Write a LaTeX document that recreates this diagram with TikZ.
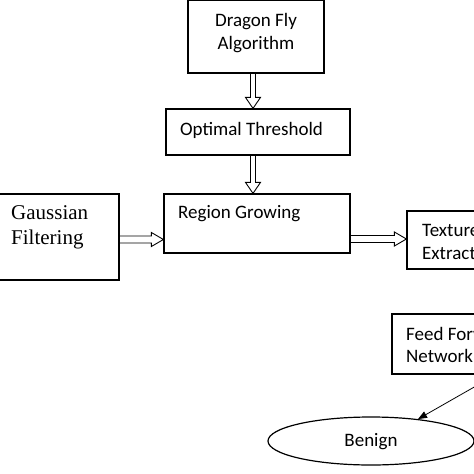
\documentclass[tikz,border=0pt]{standalone}
\usepackage{fontspec}
\setmainfont{Carlito}
\newfontfamily\serifont{Liberation Serif}
\usetikzlibrary{calc,arrows.meta,shapes.geometric}
\tikzset{
  box/.style={draw=black, line width=1.2pt, rectangle, inner sep=0pt},
  oval/.style={draw=black, line width=1.2pt, ellipse, inner sep=0pt},
  lbl/.style={inner sep=0pt, align=left, font=\fontsize{19}{22.5}\selectfont},
  slbl/.style={inner sep=0pt, align=left, font=\serifont\fontsize{21}{25}\selectfont},
  hollowdown/.style={line width=0.9pt, to path={
    ($(\tikztostart)+(-2.5,0)$) -- ($(\tikztotarget)+(-2.5,-11)$) --
    ($(\tikztotarget)+(-7.5,-11)$) -- (\tikztotarget) --
    ($(\tikztotarget)+(7.5,-11)$) -- ($(\tikztotarget)+(2.5,-11)$) --
    ($(\tikztostart)+(2.5,0)$)}},
  hollowright/.style={line width=0.9pt, to path={
    ($(\tikztostart)+(0,-3.5)$) -- ($(\tikztotarget)+(-12,-3.5)$) --
    ($(\tikztotarget)+(-12,-7)$) -- (\tikztotarget) --
    ($(\tikztotarget)+(-12,7)$) -- ($(\tikztotarget)+(-12,3.5)$) --
    ($(\tikztostart)+(0,3.5)$)}},
  thinarrow/.style={line width=0.8pt, -{Triangle[length=9pt,width=7pt]}}
}
\begin{document}
\begin{tikzpicture}[x=1pt,y=-1pt]
\useasboundingbox (0,0) rectangle (474,474);
\clip (0,0) rectangle (474,474);
\fill[white] (0,0) rectangle (474,474);
% boxes
\node[box, minimum width=136pt, minimum height=72.5pt] (dragon) at (256,36.75) {};
\node[box, minimum width=184pt, minimum height=46pt] (optimal) at (258,132) {};
\node[box, minimum width=186pt, minimum height=59pt] (region) at (257,223.5) {};
\node[box, minimum width=124pt, minimum height=86pt] (gauss) at (57,237) {};
\node[box, minimum width=153pt, minimum height=58pt] (texture) at (483.5,240) {};
\node[box, minimum width=208pt, minimum height=60pt] (feed) at (496,344) {};
\node[oval, minimum width=206pt, minimum height=48pt] (benign) at (371,441) {};
% texts
\node[lbl, align=center] (tdragon) at (256,33) {Dragon Fly\\Algorithm};
\node[lbl] (toptimal) at (251.5,130) {Optimal Threshold};
\node[lbl, anchor=west] (tregion) at (178,214) {Region Growing};
\node[slbl, anchor=west] (tgauss) at (11,227) {Gaussian\\Filtering};
\node[lbl, anchor=west] (ttexture) at (422,242) {Texture\\Extraction};
\node[lbl, anchor=west] (tfeed) at (406,345) {Feed Forward\\Network};
\node[lbl] (tbenign) at (371,442) {Benign};
% connectors
\coordinate (vx) at (253,0);
\coordinate (g2r) at (0,239.5);
\coordinate (r2t) at (0,239);
\draw[hollowdown] (vx |- dragon.south) to (vx |- optimal.north);
\draw[hollowdown] (vx |- optimal.south) to (vx |- region.north);
\draw[hollowright] (gauss.east |- g2r) to (region.west |- g2r);
\draw[hollowright] (region.east |- r2t) to (texture.west |- r2t);
\draw[thinarrow] (feed.south) -- (benign.25);
\end{tikzpicture}
\end{document}
